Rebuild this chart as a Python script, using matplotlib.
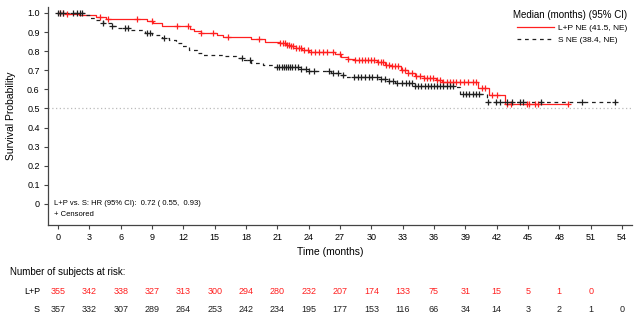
import numpy as np
import matplotlib
matplotlib.use("Agg")
import matplotlib.pyplot as plt
import matplotlib.transforms as mtransforms

plt.rcParams['font.family'] = ['Liberation Sans', 'DejaVu Sans']

# Kaplan-Meier steps (time in months, survival prob)
lp_times = [0, 0.8, 2.0, 3.6, 4.6, 8.5, 9.1, 10.0, 12.6, 13.0, 13.7, 15.2, 15.8,
            18.5, 19.8, 21.3, 21.8, 22.3, 22.8, 23.4, 24.0, 26.5, 27.1, 27.8,
            28.3, 30.5, 31.3, 31.9, 32.8, 33.5, 34.2, 35.0, 36.2, 36.8, 40.2,
            41.3, 42.8]
lp_surv = [1.0, 0.993, 0.987, 0.978, 0.970, 0.958, 0.946, 0.930, 0.918, 0.906,
           0.895, 0.886, 0.876, 0.864, 0.850, 0.840, 0.833, 0.825, 0.817, 0.808,
           0.797, 0.785, 0.770, 0.760, 0.754, 0.742, 0.730, 0.720, 0.700, 0.686,
           0.670, 0.660, 0.648, 0.640, 0.607, 0.570, 0.522]
lp_end = 48.8

s_times = [0, 2.6, 3.1, 3.6, 4.3, 5.2, 5.7, 6.8, 8.3, 9.0, 10.0, 10.6, 11.3,
           11.9, 12.5, 13.3, 13.9, 16.0, 17.0, 17.8, 18.5, 19.6, 20.6, 23.2,
           23.8, 26.1, 27.0, 27.6, 30.8, 31.5, 32.3, 34.2, 38.0, 38.5, 41.1]
s_surv = [1.0, 0.990, 0.975, 0.962, 0.948, 0.932, 0.920, 0.910, 0.897, 0.885,
          0.868, 0.857, 0.843, 0.825, 0.806, 0.792, 0.780, 0.772, 0.764, 0.752,
          0.740, 0.728, 0.716, 0.705, 0.694, 0.685, 0.675, 0.665, 0.655, 0.645,
          0.633, 0.620, 0.610, 0.575, 0.535]
s_end = 53.3

# censoring times
lp_cens = [0.2, 0.5, 0.9, 4.0, 4.8, 7.6, 9.0, 11.4, 12.4, 13.7, 14.8, 16.3, 19.2,
           21.3, 21.5, 21.7, 21.9, 22.1, 22.3, 22.5, 22.8, 23.1, 23.3, 23.6, 23.9,
           24.2, 24.6, 25.0, 25.4, 25.8, 26.3, 27.0, 27.8, 28.4, 28.8, 29.1, 29.4,
           29.7, 30.0, 30.3, 30.6, 30.9, 31.1, 31.4, 31.7, 32.0, 32.3, 32.6, 32.9,
           33.2, 33.5, 33.9, 34.3, 34.7, 35.0, 35.3, 35.6, 35.9, 36.3, 36.6, 36.9,
           37.2, 37.5, 37.8, 38.1, 38.5, 38.9, 39.3, 39.7, 40.0, 40.6, 40.9, 41.6,
           42.0, 43.0, 43.4, 44.9, 45.1, 45.7, 46.0, 48.8]
s_cens = [0.0, 0.2, 0.5, 1.4, 1.8, 2.1, 2.3, 4.3, 5.2, 6.4, 6.7, 8.5, 8.8, 10.1,
          17.6, 18.4, 21.0, 21.2, 21.4, 21.6, 21.8, 22.0, 22.2, 22.4, 22.7, 23.0,
          23.3, 23.7, 24.0, 24.5, 25.9, 26.3, 26.8, 27.3, 28.3, 28.7, 29.0, 29.4,
          29.8, 30.1, 30.5, 30.9, 31.3, 31.7, 32.1, 32.5, 32.9, 33.3, 33.6, 33.9,
          34.2, 34.5, 34.8, 35.1, 35.4, 35.7, 36.0, 36.3, 36.6, 36.9, 37.2, 37.5,
          37.8, 38.8, 39.1, 39.4, 39.7, 40.0, 40.3, 41.2, 41.9, 42.3, 43.0, 43.5,
          44.2, 44.5, 46.2, 50.2, 53.3]

risk_times = list(range(0, 55, 3))
lp_risk = [355, 342, 338, 327, 313, 300, 294, 280, 232, 207, 174, 133, 75, 31, 15, 5, 1, 0]
s_risk = [357, 332, 307, 289, 264, 253, 242, 234, 195, 177, 153, 116, 66, 34, 14, 3, 2, 1, 0]

W, H = 643, 329
fig = plt.figure(figsize=(W / 100, H / 100), dpi=100)
# axes box in pixels: left 48, right 632, top 7, bottom 225
ax = fig.add_axes([48 / W, 1 - 225 / H, (632 - 48) / W, (225 - 7) / H])

red = '#ff2020'
blk = '#202020'


def step_at(times, surv, t):
    i = np.searchsorted(times, t, side='right') - 1
    return np.array(surv)[i]


ax.step(lp_times + [lp_end], lp_surv + [lp_surv[-1]], where='post', color=red, lw=0.9)
ax.step(s_times + [s_end], s_surv + [s_surv[-1]], where='post', color=blk, lw=0.9,
        linestyle=(0, (3, 3)))
ax.plot(lp_cens, step_at(lp_times, lp_surv, lp_cens), '+', color=red, ms=5, mew=0.9)
ax.plot(s_cens, step_at(s_times, s_surv, s_cens), '+', color=blk, ms=5, mew=0.9)

ax.axhline(0.5, color='#bbbbbb', lw=0.9, linestyle=(0, (1, 2)))

ax.set_xlim(-0.96, 54.96)
ax.set_ylim(-0.11, 1.031)
ax.set_xticks(risk_times)
ax.set_yticks(np.arange(0, 1.01, 0.1))
ax.set_yticklabels(['0'] + ['%.1f' % v for v in np.arange(0.1, 1.01, 0.1)])
ax.tick_params(labelsize=6.5, length=3, width=0.8, color='#444444', pad=3)
for side in ['top', 'right']:
    ax.spines[side].set_visible(False)
for side in ['left', 'bottom']:
    ax.spines[side].set_color('#444444')
    ax.spines[side].set_linewidth(0.9)

ax.set_ylabel('Survival Probability', fontsize=7.5, labelpad=8)
fig.text(330 / W, 1 - 252 / H, 'Time (months)', fontsize=7.5, ha='center', va='center')

ax.text(-0.4, 0.0, 'L+P vs. S: HR (95% CI):  0.72 ( 0.55,  0.93)', fontsize=5.5,
        ha='left', va='center')
ax.text(-0.4, -0.055, '+ Censored', fontsize=5.5, ha='left', va='center')

# legend
leg = ax.legend([plt.Line2D([], [], color=red, lw=0.9),
                 plt.Line2D([], [], color=blk, lw=0.9, linestyle=(0, (3, 3)))],
                ['L+P NE (41.5, NE)', 'S NE (38.4, NE)'],
                title='Median (months) (95% CI)', frameon=False, fontsize=6,
                title_fontsize=7, handlelength=4.5, handletextpad=0.5,
                labelspacing=0.45, loc='upper right',
                bbox_to_anchor=(635 / W, 1 - 3 / H), bbox_transform=fig.transFigure)
leg._legend_box.align = 'right'

# number at risk table
fig.text(10 / W, 1 - 272 / H, 'Number of subjects at risk:', fontsize=7, ha='left', va='center')
trans = mtransforms.blended_transform_factory(ax.transData, fig.transFigure)
fig.text(40 / W, 1 - 292 / H, 'L+P', fontsize=6.5, ha='right', va='center')
fig.text(40 / W, 1 - 309 / H, 'S', fontsize=6.5, ha='right', va='center')
for t, n in zip(risk_times, lp_risk):
    ax.text(t, 1 - 292 / H, str(n), transform=trans, fontsize=6.5, color=red,
            ha='center', va='center')
for t, n in zip(risk_times, s_risk):
    ax.text(t, 1 - 309 / H, str(n), transform=trans, fontsize=6.5, color=blk,
            ha='center', va='center')

fig.savefig('out.png', dpi=100)
